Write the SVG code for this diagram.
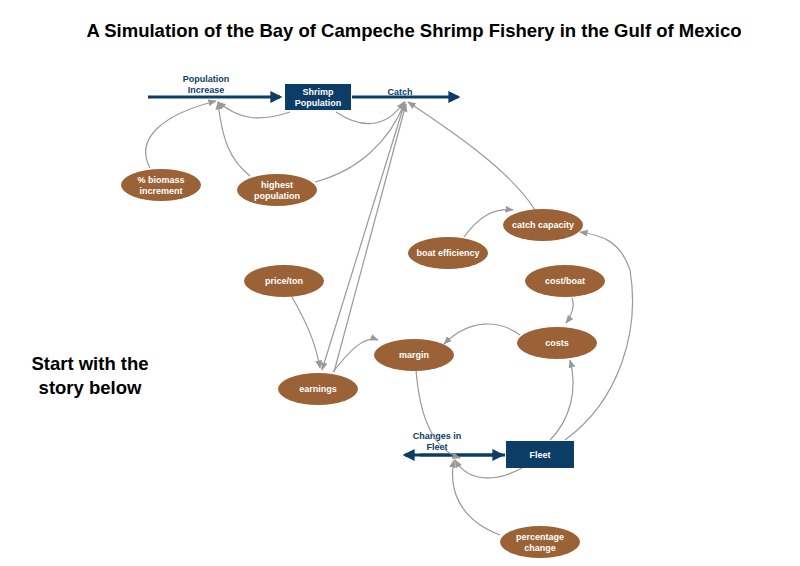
<svg xmlns="http://www.w3.org/2000/svg" width="800" height="566" viewBox="0 0 800 566">
<style>
.t{font-family:"Liberation Sans",Arial,sans-serif;font-weight:bold}
.e ellipse{fill:#9a6236}
.e text{fill:#fff;font-size:9px;text-anchor:middle}
.s rect{fill:#0b3d66}
.s text{fill:#fff;font-size:9px;text-anchor:middle}
.fl{stroke:#0b3d66;stroke-width:3;fill:none}
.ln{stroke:#999;stroke-width:1.2;fill:none;marker-end:url(#g)}
.lb{fill:#0b3d66;font-size:9px;text-anchor:middle}
</style>
<defs>
<marker id="g" viewBox="0 0 10 10" refX="9" refY="5" markerWidth="7" markerHeight="7" orient="auto"><path d="M0,1L10,5L0,9z" fill="#999"/></marker>
<marker id="b" viewBox="0 0 10 10" refX="8" refY="5" markerWidth="4" markerHeight="4" orient="auto"><path d="M0,0L10,5L0,10z" fill="#0b3d66"/></marker>
</defs>
<rect width="800" height="566" fill="#fff"/>
<text class="t" x="414" y="37" font-size="18.5" text-anchor="middle">A Simulation of the Bay of Campeche Shrimp Fishery in the Gulf of Mexico</text>
<text class="t" x="90" y="370" font-size="18.5" text-anchor="middle">Start with the</text>
<text class="t" x="90" y="394" font-size="18.5" text-anchor="middle">story below</text>
<g id="connectors">
<path class="fl" d="M148,97H280" marker-end="url(#b)"/>
<path class="fl" d="M352,97H458" marker-end="url(#b)"/>
<path class="fl" d="M505,455H405" marker-end="url(#b)"/>
<path class="fl" d="M420,455H502" marker-end="url(#b)"/>
<text class="t lb" x="206" y="82">Population</text>
<text class="t lb" x="206" y="93">Increase</text>
<text class="t lb" x="400" y="95">Catch</text>
<text class="t lb" x="437" y="439">Changes in</text>
<text class="t lb" x="437" y="450">Fleet</text>
<path class="ln" d="M290,112C260,122 240,120 218,102"/>
<path class="ln" d="M336,112C360,128 385,130 404,102"/>
<path class="ln" d="M150,168C135,140 160,115 216,101"/>
<path class="ln" d="M250,176C230,160 222,140 218,102"/>
<path class="ln" d="M315,182C360,170 390,140 405,102"/>
<path class="ln" d="M535,210C510,170 450,130 408,102"/>
<path class="ln" d="M405,102L322,370"/>
<path class="ln" d="M334,372L406,104"/>
<path class="ln" d="M292,297C305,320 315,340 320,368"/>
<path class="ln" d="M333,372C350,350 365,335 378,340"/>
<path class="ln" d="M464,237C480,215 495,208 513,210"/>
<path class="ln" d="M572,298C575,305 572,315 566,323"/>
<path class="ln" d="M520,335C500,320 470,318 444,344"/>
<path class="ln" d="M416,370C420,420 435,450 460,458"/>
<path class="ln" d="M522,468C500,480 470,485 455,460"/>
<path class="ln" d="M500,535C460,520 448,490 454,460"/>
<path class="ln" d="M550,440C570,420 578,390 570,360"/>
<path class="ln" d="M565,440C620,400 640,330 630,270C620,240 600,235 580,232"/>
</g>
<g id="shrimp" class="s"><rect x="285" y="84" width="66" height="26"/><text class="t" x="318" y="95">Shrimp</text><text class="t" x="318" y="106">Population</text></g>
<g id="fleet" class="s"><rect x="506" y="441" width="68" height="27"/><text class="t" x="540" y="458">Fleet</text></g>
<g id="biomass" class="e"><ellipse cx="161" cy="185" rx="40" ry="16"/><text class="t" x="161" y="183">% biomass</text><text class="t" x="161" y="194">increment</text></g>
<g id="highest" class="e"><ellipse cx="277" cy="190" rx="40" ry="16"/><text class="t" x="277" y="188">highest</text><text class="t" x="277" y="199">population</text></g>
<g id="capacity" class="e"><ellipse cx="543" cy="225" rx="40" ry="16"/><text class="t" x="543" y="228">catch capacity</text></g>
<g id="efficiency" class="e"><ellipse cx="448" cy="253" rx="40" ry="16"/><text class="t" x="448" y="256">boat efficiency</text></g>
<g id="price" class="e"><ellipse cx="284" cy="281" rx="40" ry="16"/><text class="t" x="284" y="284">price/ton</text></g>
<g id="costboat" class="e"><ellipse cx="565" cy="281" rx="40" ry="16"/><text class="t" x="565" y="284">cost/boat</text></g>
<g id="costs" class="e"><ellipse cx="557" cy="343" rx="40" ry="16"/><text class="t" x="557" y="346">costs</text></g>
<g id="margin" class="e"><ellipse cx="414" cy="355" rx="40" ry="16"/><text class="t" x="414" y="358">margin</text></g>
<g id="earnings" class="e"><ellipse cx="318" cy="389" rx="40" ry="16"/><text class="t" x="318" y="392">earnings</text></g>
<g id="pct" class="e"><ellipse cx="540" cy="542" rx="40" ry="16"/><text class="t" x="540" y="540">percentage</text><text class="t" x="540" y="551">change</text></g>
</svg>
